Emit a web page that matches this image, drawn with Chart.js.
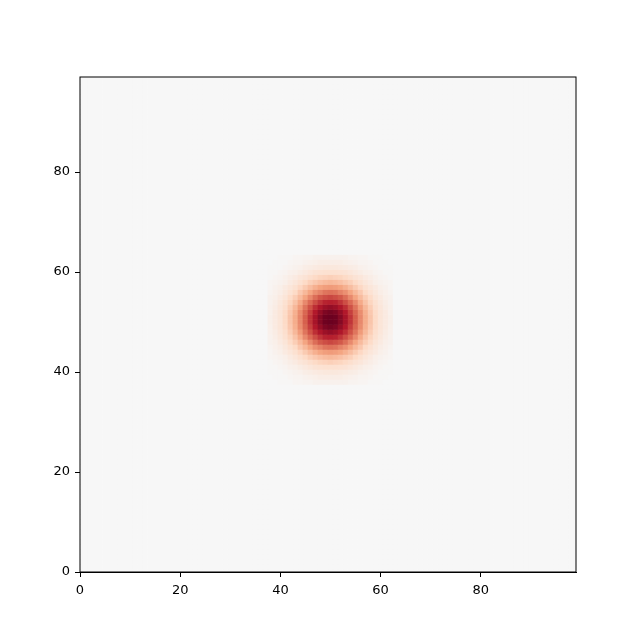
<!DOCTYPE html>
<html>
<head>
<meta charset="utf-8">
<script src="https://cdn.jsdelivr.net/npm/chart.js@4"></script>
<style>
  html, body { margin: 0; padding: 0; background: #fff; }
</style>
</head>
<body>
<canvas id="heat" width="640" height="643"></canvas>
<script>
// cells are centred on whole numbers 0..99; the axes run from 0 to 99
const gridSize = 100;
const axisMax = 99;
const xTicks = [0, 20, 40, 60, 80];
const yTicks = [0, 20, 40, 60, 80];

// one quadrant of the blob (percent of colour range).
// columns: x distance 0..12 from the centre column (x = 50)
// rows: the two centre rows (y = 50 and 51) first, then outwards
const blobQuadrant = [
  [99, 98, 92, 83, 72, 60, 48, 37, 28, 20, 13, 9, 6],
  [96, 94, 88, 80, 69, 58, 47, 36, 27, 19, 13, 9, 5],
  [88, 86, 81, 74, 64, 54, 43, 33, 25, 17, 12, 8, 5],
  [78, 77, 72, 65, 57, 48, 38, 29, 22, 16, 11, 7, 4],
  [67, 65, 62, 56, 48, 40, 32, 25, 19, 13, 9, 6, 4],
  [55, 54, 50, 46, 40, 33, 27, 20, 15, 11, 7, 5, 3],
  [43, 42, 40, 36, 31, 26, 21, 16, 12, 9, 6, 4, 2],
  [33, 32, 30, 27, 24, 20, 16, 12, 9, 6, 4, 3, 2],
  [24, 23, 22, 20, 17, 14, 12, 9, 7, 5, 3, 2, 1],
  [16, 16, 15, 14, 12, 10, 8, 6, 5, 3, 2, 1, 1],
  [11, 11, 10, 9, 8, 7, 5, 4, 3, 2, 1, 1, 1],
  [7, 7, 7, 6, 5, 4, 3, 3, 2, 1, 1, 1, 0],
  [4, 4, 4, 4, 3, 3, 2, 2, 1, 1, 1, 0, 0]
];
const blobCol = 50;
const blobRowLow = 50;
const blobRowHigh = 51;

// RdBu_r, positive half only (0 -> white-grey, 1 -> dark red)
const cmapStops = [
  [0.0, [247, 247, 247]],
  [0.2, [253, 219, 199]],
  [0.4, [244, 165, 130]],
  [0.6, [214, 96, 77]],
  [0.8, [178, 24, 43]],
  [1.0, [103, 0, 31]]
];

function colourFor(v) {
  v = Math.max(0, Math.min(1, v));
  for (let k = 1; k < cmapStops.length; k++) {
    const [p1, c1] = cmapStops[k];
    const [p0, c0] = cmapStops[k - 1];
    if (v <= p1) {
      const t = (v - p0) / (p1 - p0);
      const c = c0.map((a, n) => Math.round(a + (c1[n] - a) * t));
      return `rgb(${c[0]},${c[1]},${c[2]})`;
    }
  }
  return 'rgb(103,0,31)';
}

const span = blobQuadrant.length;
function colIndex(i) {
  const d = Math.abs(i - blobCol);
  return d < span ? d : -1;
}
function rowIndex(j) {
  const d = j <= blobRowLow ? blobRowLow - j : j - blobRowHigh;
  return d < span ? d : -1;
}

const points = [];
const colours = [];
for (let j = 0; j < gridSize; j++) {
  for (let i = 0; i < gridSize; i++) {
    const a = rowIndex(j), b = colIndex(i);
    const v = (a >= 0 && b >= 0) ? blobQuadrant[a][b] / 100 : 0;
    points.push({ x: i, y: j });
    colours.push(colourFor(v));
  }
}

const frame = {
  id: 'frame',
  afterDatasetsDraw(chart) {
    const { ctx, chartArea: a } = chart;
    ctx.save();
    ctx.strokeStyle = '#000';
    ctx.lineWidth = 1;
    ctx.strokeRect(a.left, a.top, a.right - a.left, a.bottom - a.top);
    ctx.restore();
  }
};

function cellRadius(ctx) {
  const s = ctx.chart.scales.x;
  const side = Math.abs(s.getPixelForValue(1) - s.getPixelForValue(0));
  return (side + 0.6) / (2 * Math.SQRT1_2);
}

const tickFont = { family: 'DejaVu Sans', size: 13 };

new Chart(document.getElementById('heat'), {
  type: 'scatter',
  data: {
    datasets: [{
      data: points,
      backgroundColor: colours,
      borderWidth: 0,
      pointStyle: 'rect',
      pointRadius: cellRadius,
      pointHoverRadius: cellRadius,
      clip: 0
    }]
  },
  options: {
    responsive: false,
    animation: false,
    devicePixelRatio: 1,
    events: [],
    layout: { padding: { top: 77, right: 64, left: 0, bottom: 0 } },
    plugins: { legend: { display: false }, tooltip: { enabled: false } },
    scales: {
      x: {
        type: 'linear',
        min: 0,
        max: axisMax,
        afterFit: s => { s.height = 71; },
        afterBuildTicks: s => { s.ticks = xTicks.map(v => ({ value: v })); },
        ticks: { color: '#000', font: tickFont, padding: 6, maxRotation: 0 },
        grid: { display: true, drawOnChartArea: false, drawTicks: true, tickLength: 5, tickColor: '#000' },
        border: { display: true, color: '#000', width: 1 }
      },
      y: {
        type: 'linear',
        min: 0,
        max: axisMax,
        afterFit: s => { s.width = 80; },
        afterBuildTicks: s => { s.ticks = yTicks.map(v => ({ value: v })); },
        ticks: { color: '#000', font: tickFont, padding: 5 },
        grid: { display: true, drawOnChartArea: false, drawTicks: true, tickLength: 5, tickColor: '#000' },
        border: { display: true, color: '#000', width: 1 }
      }
    }
  },
  plugins: [frame]
});
</script>
</body>
</html>
